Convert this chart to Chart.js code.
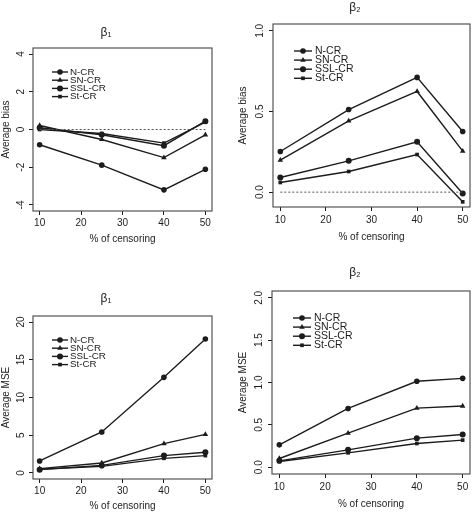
<!DOCTYPE html>
<html lang="en">
<head>
  <meta charset="UTF-8" />
  <title>Average bias and MSE by % of censoring</title>
  <script src="https://cdn.jsdelivr.net/npm/chart.js"></script>
  <style>
    html, body { margin: 0; padding: 0; background: #fff; }
    #page { position: relative; width: 474px; height: 513px; overflow: hidden; }
    canvas { position: absolute; }
  </style>
</head>
<body>
  <div id="page">
    <canvas id="biasB1" width="237" height="256" style="left:0;top:0"></canvas>
    <canvas id="biasB2" width="237" height="256" style="left:237px;top:0"></canvas>
    <canvas id="mseB1" width="237" height="257" style="left:0;top:256px"></canvas>
    <canvas id="mseB2" width="237" height="257" style="left:237px;top:256px"></canvas>
  </div>

  <script>
    // data
    const censoring = [10, 25, 40, 50];
    const methods = ["N-CR", "SN-CR", "SSL-CR", "St-CR"];
    const xTicks = [10, 20, 30, 40, 50];

    const biasB1_N   = [-0.81, -1.89, -3.20, -2.11];
    const biasB1_SN  = [0.21, -0.53, -1.49, -0.28];
    const biasB1_SSL = [0.09, -0.28, -0.86, 0.44];
    const biasB1_St  = [0.00, -0.21, -0.72, 0.39];

    const biasB2_N   = [0.252, 0.512, 0.711, 0.376];
    const biasB2_SN  = [0.198, 0.442, 0.624, 0.254];
    const biasB2_SSL = [0.091, 0.194, 0.312, -0.008];
    const biasB2_St  = [0.060, 0.128, 0.233, -0.060];

    const mseB1_N   = [1.59, 5.43, 12.67, 17.75];
    const mseB1_SN  = [0.57, 1.32, 3.89, 5.12];
    const mseB1_SSL = [0.44, 1.00, 2.30, 2.74];
    const mseB1_St  = [0.50, 0.88, 1.94, 2.30];

    const mseB2_N   = [0.264, 0.694, 1.014, 1.049];
    const mseB2_SN  = [0.103, 0.402, 0.698, 0.722];
    const mseB2_SSL = [0.075, 0.205, 0.343, 0.387];
    const mseB2_St  = [0.067, 0.170, 0.280, 0.320];

    const biasB1Ticks = [-4, -2, 0, 2, 4];
    const biasB1Labels = ["-4", "-2", "0", "2", "4"];
    const biasB2Ticks = [0, 0.5, 1];
    const biasB2Labels = ["0.0", "0.5", "1.0"];
    const mseB1Ticks = [0, 5, 10, 15, 20];
    const mseB1Labels = ["0", "5", "10", "15", "20"];
    const mseB2Ticks = [0, 0.5, 1, 1.5, 2];
    const mseB2Labels = ["0.0", "0.5", "1.0", "1.5", "2.0"];

    const ink = "#1c1c1c";
    const family = "'Liberation Sans', Arial, Helvetica, sans-serif";
    const markers = [
      { style: "circle", r: 2.8 },
      { style: "triangle", r: 3.2 },
      { style: "circle", r: 3.0 },
      { style: "rect", r: 2.6 }
    ];

    // R-like box around the plot region
    const frameBox = {
      id: "frameBox",
      afterDraw(chart) {
        const { ctx, chartArea: a } = chart;
        ctx.save();
        ctx.strokeStyle = "#444";
        ctx.lineWidth = 1.1;
        ctx.strokeRect(a.left, a.top, a.right - a.left, a.bottom - a.top);
        ctx.restore();
      }
    };

    // y tick labels drawn rotated, as R does by default
    const sideLabels = {
      id: "sideLabels",
      afterDraw(chart, args, o) {
        const { ctx, chartArea: a } = chart;
        const ys = chart.scales.y;
        ctx.save();
        ctx.font = "10px " + family;
        ctx.fillStyle = ink;
        ctx.textAlign = "center";
        ctx.textBaseline = "middle";
        ys.ticks.forEach((t, i) => {
          ctx.save();
          ctx.translate(a.left - o.offset, ys.getPixelForValue(t.value));
          ctx.rotate(-Math.PI / 2);
          ctx.fillText(o.labels[i], 0, 0);
          ctx.restore();
        });
        ctx.restore();
      }
    };

    // legend inside the plot, line with the marker in its middle
    const insetLegend = {
      id: "insetLegend",
      afterDraw(chart, args, o) {
        const { ctx, chartArea: a } = chart;
        ctx.save();
        ctx.font = o.size + "px " + family;
        ctx.textBaseline = "middle";
        ctx.fillStyle = ink;
        ctx.strokeStyle = ink;
        ctx.lineWidth = 1.4;
        chart.data.datasets.filter(d => !d.noLegend).forEach((d, i) => {
          const y = a.top + o.y0 + i * o.step;
          ctx.beginPath();
          ctx.moveTo(a.left + o.x0, y);
          ctx.lineTo(a.left + o.x1, y);
          ctx.stroke();
          Chart.helpers.drawPoint(ctx, { pointStyle: d.pointStyle, radius: d.pointRadius, borderWidth: 0, rotation: 0 },
            a.left + (o.x0 + o.x1) / 2, y);
          ctx.fillText(d.label, a.left + o.tx, y);
        });
        ctx.restore();
      }
    };

    function makeSeries(list) {
      return list.map((vals, k) => ({
        label: methods[k],
        data: censoring.map((x, i) => ({ x: x, y: vals[i] })),
        borderColor: ink,
        backgroundColor: ink,
        borderWidth: 1.4,
        pointStyle: markers[k].style,
        pointRadius: markers[k].r,
        pointBorderWidth: 0,
        pointBackgroundColor: ink,
        tension: 0
      }));
    }

    function zeroLine() {
      return {
        label: "zero",
        noLegend: true,
        data: [{ x: 10, y: 0 }, { x: 50, y: 0 }],
        borderColor: "#555",
        borderWidth: 1,
        borderDash: [2, 2],
        pointRadius: 0
      };
    }

    function drawPanel(id, p, g) {
      const datasets = makeSeries(p.series);
      if (p.zero) datasets.unshift(zeroLine());
      const tickGrid = { drawOnChartArea: false, drawTicks: true, tickLength: 4, color: ink, lineWidth: 1 };

      new Chart(document.getElementById(id), {
        type: "line",
        data: { datasets: datasets },
        plugins: [frameBox, sideLabels, insetLegend],
        options: {
          responsive: false,
          animation: false,
          layout: { padding: { left: 0, right: g.right, top: 0, bottom: 0 } },
          scales: {
            x: {
              type: "linear",
              min: 8.4,
              max: 51.6,
              afterBuildTicks: s => { s.ticks = xTicks.map(v => ({ value: v })); },
              afterFit: s => { s.height = g.xH; },
              ticks: { font: { family: family, size: 10 }, color: ink, padding: g.xPad, maxRotation: 0, callback: v => String(v) },
              grid: tickGrid,
              border: { display: false },
              title: { display: true, text: "% of censoring", color: ink, font: { family: family, size: 10 }, padding: { top: 0, bottom: g.xTitle } }
            },
            y: {
              type: "linear",
              min: p.yMin,
              max: p.yMax,
              afterBuildTicks: s => { s.ticks = p.yTicks.map(v => ({ value: v })); },
              afterFit: s => { s.width = g.yW; },
              ticks: { display: false },
              grid: tickGrid,
              border: { display: false },
              title: { display: true, text: p.yTitle, color: ink, font: { family: family, size: 10, lineHeight: 1 }, padding: { top: 1, bottom: 0 } }
            }
          },
          plugins: {
            legend: { display: false },
            tooltip: { enabled: false },
            title: {
              display: true,
              text: p.title,
              color: ink,
              font: { family: family, size: 12, weight: "normal" },
              padding: { top: g.tTop, bottom: g.tBottom }
            },
            sideLabels: { labels: p.yLabels, offset: g.yLab },
            insetLegend: g.legend
          }
        }
      });
    }

    const leftLegend = { y0: 24, step: 8.2, x0: 19, x1: 35, tx: 37, size: 9.8 };
    const rightLegend = { y0: 27, step: 9.1, x0: 21, x1: 39, tx: 42, size: 10.5 };

    drawPanel("biasB1",
      { title: "β₁", yTitle: "Average bias", zero: true, yMin: -4.32, yMax: 4.32,
        yTicks: biasB1Ticks, yLabels: biasB1Labels, series: [biasB1_N, biasB1_SN, biasB1_SSL, biasB1_St] },
      { right: 25, yW: 33, xH: 45, xPad: 2, xTitle: 11, tTop: 25.8, tBottom: 7.8, yLab: 12, legend: leftLegend });

    drawPanel("biasB2",
      { title: "β₂", yTitle: "Average bias", zero: true, yMin: -0.092, yMax: 1.042,
        yTicks: biasB2Ticks, yLabels: biasB2Labels, series: [biasB2_N, biasB2_SN, biasB2_SSL, biasB2_St] },
      { right: 1, yW: 36, xH: 49, xPad: 3, xTitle: 12.3, tTop: 0, tBottom: 9.6, yLab: 13, legend: rightLegend });

    drawPanel("mseB1",
      { title: "β₁", yTitle: "Average MSE", zero: false, yMin: -0.8, yMax: 20.8,
        yTicks: mseB1Ticks, yLabels: mseB1Labels, series: [mseB1_N, mseB1_SN, mseB1_SSL, mseB1_St] },
      { right: 25, yW: 33, xH: 34, xPad: 2, xTitle: 1, tTop: 35.8, tBottom: 9.8, yLab: 12, legend: leftLegend });

    drawPanel("mseB2",
      { title: "β₂", yTitle: "Average MSE", zero: false, yMin: -0.08, yMax: 2.08,
        yTicks: mseB2Ticks, yLabels: mseB2Labels, series: [mseB2_N, mseB2_SN, mseB2_SSL, mseB2_St] },
      { right: 1, yW: 35, xH: 39, xPad: 3, xTitle: 3, tTop: 9.8, tBottom: 10.8, yLab: 13, legend: rightLegend });
  </script>
</body>
</html>
